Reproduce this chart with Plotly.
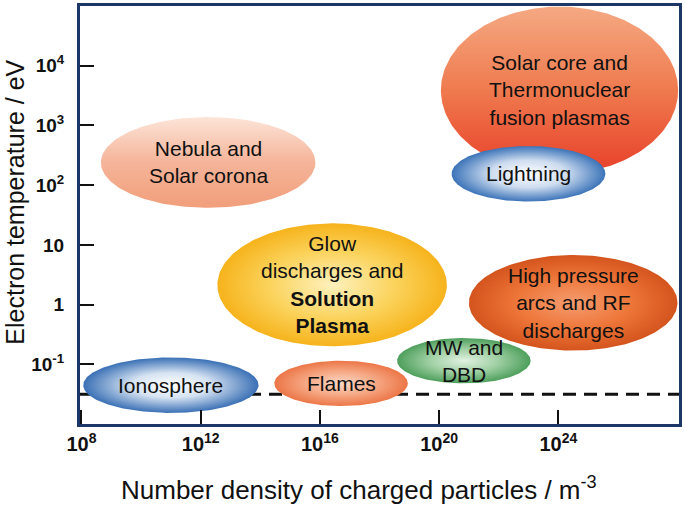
import numpy as np
import plotly.graph_objects as go

# ---- data (log10 units) ----
regions = ["Nebula", "Solar core", "Lightning", "Glow", "High pressure",
           "MW and DBD", "Flames", "Ionosphere"]
labels = ["Nebula and<br>Solar corona",
          "Solar core and<br>Thermonuclear<br>fusion plasmas",
          "Lightning",
          "Glow<br>discharges and<br><b>Solution</b><br><b>Plasma</b>",
          "High pressure<br>arcs and RF<br>discharges",
          "MW and<br>DBD",
          "Flames",
          "Ionosphere"]
center_log_density = [12.25, 24.04, 23.0, 16.41, 24.5, 20.83, 16.71, 11.0]
center_log_temp = [2.38, 3.59, 2.19, 0.33, 0.03, -0.94, -1.32, -1.35]
half_width_decades = [3.6, 3.98, 2.58, 3.85, 3.5, 2.24, 2.24, 2.94]
half_height_decades = [0.76, 1.40, 0.465, 1.03, 0.80, 0.38, 0.38, 0.465]

x_tick_exponents = [8, 12, 16, 20, 24]
y_tick_exponents = [-1, 0, 1, 2, 3, 4]
y_tick_labels = ["10<sup>-1</sup>", "1", "10", "10<sup>2</sup>",
                 "10<sup>3</sup>", "10<sup>4</sup>"]
cutoff_log_temp = -1.5

# ---- styles ----
gradients = {
    "Nebula": ("vertical", [[0, "#f19e7b"], [0.5, "#f5b499"], [1, "#fce4d8"]]),
    "Solar core": ("vertical", [[0, "#e8402a"], [0.5, "#ef7a4e"], [1, "#f5a983"]]),
    "Lightning": ("radial", [[0, "#ffffff"], [0.5, "#cddcef"], [1, "#3c74b9"]]),
    "Glow": ("radial", [[0, "#fdf1bd"], [0.55, "#fbd35c"], [1, "#f6b31c"]]),
    "High pressure": ("radial", [[0, "#f59c70"], [0.55, "#ee7639"], [1, "#d4541d"]]),
    "MW and DBD": ("radial", [[0, "#e2f2e2"], [0.5, "#a2d1a6"], [1, "#4e9f5c"]]),
    "Flames": ("radial", [[0, "#fcd9c8"], [0.5, "#f6ab88"], [1, "#ec7647"]]),
    "Ionosphere": ("radial", [[0, "#ffffff"], [0.45, "#d6e3f2"], [1, "#3a70b5"]]),
}
FONT = "Arial, Liberation Sans, sans-serif"
NAVY = "#1c3766"

fig = go.Figure()
t = np.linspace(0, 2 * np.pi, 241)
for name, cx, cy, a, b in zip(regions, center_log_density, center_log_temp,
                              half_width_decades, half_height_decades):
    gtype, cs = gradients[name]
    fig.add_trace(go.Scatter(
        x=10.0 ** (cx + a * np.cos(t)), y=10.0 ** (cy + b * np.sin(t)),
        mode="lines", fill="toself", line=dict(width=0, color="rgba(0,0,0,0)"),
        fillgradient=dict(type=gtype, colorscale=cs),
        hoverinfo="skip", showlegend=False))

for lab, cx, cy in zip(labels, center_log_density, center_log_temp):
    fig.add_annotation(x=cx, y=cy, xref="x", yref="y", text=lab, showarrow=False,
                       font=dict(family=FONT, size=21, color="#111111"),
                       xanchor="center", yanchor="middle", align="center")

fig.add_shape(type="line", xref="paper", yref="y", x0=0, x1=1,
              y0=10.0 ** cutoff_log_temp, y1=10.0 ** cutoff_log_temp,
              line=dict(color="#111111", width=3, dash="13px,8px"), layer="below")

fig.update_xaxes(type="log", range=[7.95, 28.05],
                 tickvals=[10.0 ** e for e in x_tick_exponents],
                 ticktext=["<b>10<sup>%d</sup></b>" % e for e in x_tick_exponents],
                 tickfont=dict(family=FONT, size=20, color="#111111"),
                 ticks="inside", ticklen=14, tickwidth=2, tickcolor="#111111",
                 showline=True, linewidth=3, linecolor=NAVY, mirror=True,
                 showgrid=False, zeroline=False, ticklabelstandoff=0)
fig.update_yaxes(type="log", range=[-2.0, 5.0],
                 tickvals=[10.0 ** e for e in y_tick_exponents],
                 ticktext=["<b>%s</b>" % s for s in y_tick_labels],
                 tickfont=dict(family=FONT, size=19, color="#111111"),
                 ticks="inside", ticklen=14, tickwidth=2, tickcolor="#111111",
                 showline=True, linewidth=3, linecolor=NAVY, mirror=True,
                 showgrid=False, zeroline=False, ticklabelstandoff=9)

fig.add_annotation(text="Number density of charged particles / m<sup>-3</sup>",
                   xref="paper", yref="paper", x=0.466, y=-0.1544, showarrow=False,
                   xanchor="center", yanchor="middle", borderpad=0,
                   font=dict(family=FONT, size=26, color="#111111"))
fig.add_annotation(text="Electron temperature / eV", textangle=-90,
                   xref="paper", yref="paper", x=-0.1082, y=0.53, showarrow=False,
                   xanchor="center", yanchor="middle", borderpad=0,
                   font=dict(family=FONT, size=25, color="#111111"))

fig.update_layout(width=685, height=506, margin=dict(l=80, r=4, t=3, b=82),
                  paper_bgcolor="white", plot_bgcolor="white", showlegend=False)
fig.write_html("out.html", config={"displayModeBar": False},
               post_script="document.body.style.margin='0';document.body.style.overflow='hidden';")
